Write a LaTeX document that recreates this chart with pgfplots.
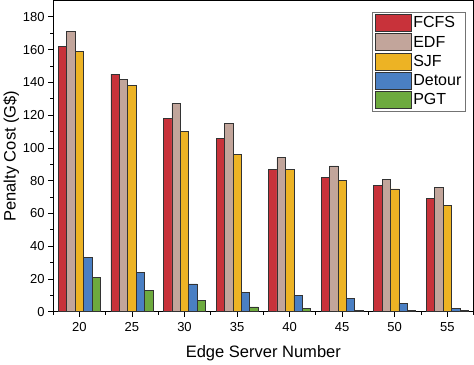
\documentclass[border=0pt]{standalone}
\usepackage{pgfplots}
\pgfplotsset{compat=1.18}
\usepackage{fontspec}
\setmainfont{Liberation Sans}
\definecolor{cfcfs}{HTML}{C8323A}
\definecolor{cedf}{HTML}{C2A59B}
\definecolor{csjf}{HTML}{EDB324}
\definecolor{cdet}{HTML}{4A7FC3}
\definecolor{cpgt}{HTML}{6DAA3E}
\begin{document}
\begin{tikzpicture}
\begin{axis}[
  scale only axis, width=420pt, height=311pt,
  ybar=0pt, bar width=0.16,
  xmin=-0.5, xmax=7.5, ymin=0, ymax=190,
  xtick={0,1,2,3,4,5,6,7},
  xticklabels={20,25,30,35,40,45,50,55},
  minor xtick={-0.5,0.5,1.5,2.5,3.5,4.5,5.5,6.5,7.5},
  ytick={0,20,...,180}, minor ytick={10,30,...,170},
  tick pos=left, tick align=outside,
  major tick length=5pt, minor tick length=3pt,
  tick style={black, line width=0.8pt},
  axis line style={line width=0.9pt},
  xlabel={Edge Server Number}, ylabel={Penalty Cost (G\$)},
  ticklabel style={font=\fontsize{13}{15}\selectfont},
  xticklabel style={yshift=-2pt},
  label style={font=\fontsize{16.5}{18}\selectfont},
  xlabel style={yshift=-7pt},
  ylabel style={yshift=-3pt},
  /pgf/number format/assume math mode=true,
  legend style={at={(0.981,0.963)}, anchor=north east,
    font=\fontsize{16}{18}\selectfont, draw=black!55,
    inner sep=2pt, row sep=1.5pt, cells={anchor=west}},
  legend image code/.code={\draw[#1, line width=0.7pt] (0pt,-8.5pt) rectangle (36pt,8.5pt);},
  every axis plot/.append style={line width=0.6pt},
]
\addplot[fill=cfcfs, draw=black!80] coordinates {(0,162) (1,145) (2,118) (3,106) (4,87) (5,82) (6,77) (7,69)};
\addplot[fill=cedf, draw=black!80] coordinates {(0,171) (1,142) (2,127) (3,115) (4,94) (5,89) (6,81) (7,76)};
\addplot[fill=csjf, draw=black!80] coordinates {(0,159) (1,138) (2,110) (3,96) (4,87) (5,80) (6,75) (7,65)};
\addplot[fill=cdet, draw=black!80] coordinates {(0,33) (1,24) (2,17) (3,12) (4,10) (5,8) (6,5) (7,2)};
\addplot[fill=cpgt, draw=black!80] coordinates {(0,21) (1,13) (2,7) (3,3) (4,2) (5,1) (6,0.8) (7,0.7)};
\legend{FCFS,EDF,SJF,Detour,PGT}
\end{axis}
\end{tikzpicture}
\end{document}
